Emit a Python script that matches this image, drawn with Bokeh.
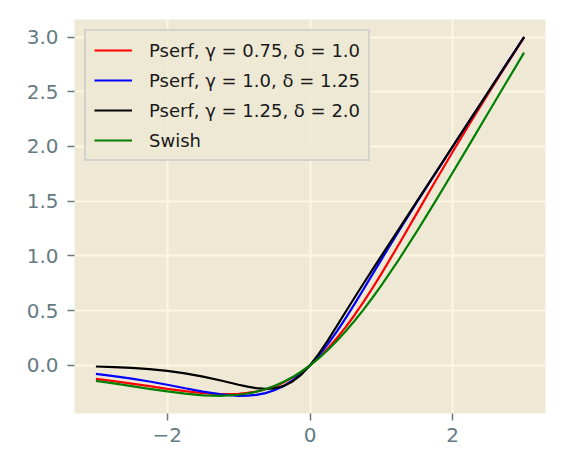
from bokeh.plotting import figure
from bokeh.models import FixedTicker, NumeralTickFormatter, Range1d, Legend, LegendItem
from bokeh.embed import file_html
from bokeh.resources import INLINE

# values
x_vals = [-3.0, -2.75, -2.5, -2.25, -2.0, -1.75, -1.5, -1.25, -1.0, -0.875, -0.75, -0.625,
          -0.5, -0.375, -0.25, -0.125, 0.0, 0.125, 0.25, 0.375, 0.5, 0.625, 0.75, 0.875,
          1.0, 1.25, 1.5, 1.75, 2.0, 2.25, 2.5, 2.75, 3.0]
pserf_a = [-0.1233, -0.1442, -0.1668, -0.1905, -0.2142, -0.2361, -0.2537, -0.2633, -0.2603,
           -0.2523, -0.2388, -0.2191, -0.1925, -0.1579, -0.1147, -0.0622, 0.0, 0.0723,
           0.1548, 0.2472, 0.3493, 0.4602, 0.5791, 0.7049, 0.8363, 1.1110, 1.3933, 1.6752,
           1.9518, 2.2215, 2.4845, 2.7424, 2.9968]
pserf_b = [-0.0787, -0.0982, -0.1212, -0.1479, -0.1777, -0.2092, -0.2399, -0.2652, -0.2784,
           -0.2775, -0.2698, -0.2538, -0.2279, -0.1905, -0.1406, -0.0772, 0.0, 0.0908,
           0.1942, 0.3087, 0.4319, 0.5616, 0.6953, 0.8308, 0.9663, 1.2335, 1.4936, 1.7479,
           1.9994, 2.2499, 2.5, 2.75, 3.0]
pserf_c = [-0.0105, -0.0158, -0.0237, -0.0351, -0.0512, -0.0734, -0.1027, -0.1386, -0.1775,
           -0.1951, -0.2086, -0.2149, -0.2101, -0.1898, -0.1495, -0.0864, 0.0, 0.1070,
           0.2287, 0.3583, 0.4899, 0.6201, 0.7480, 0.8744, 0.9999, 1.25, 1.5, 1.75,
           2.0, 2.25, 2.5, 2.75, 3.0]
swish = [-0.1423, -0.1652, -0.1897, -0.2145, -0.2384, -0.2591, -0.2736, -0.2784, -0.2689,
         -0.2574, -0.2406, -0.2179, -0.1888, -0.1527, -0.1095, -0.0586, 0.0, 0.0664,
         0.1405, 0.2223, 0.3112, 0.4071, 0.5094, 0.6176, 0.7311, 0.9716, 1.2264, 1.4909,
         1.7616, 2.0355, 2.3104, 2.5848, 2.8577]

labels = ["Pserf, γ = 0.75, δ = 1.0", "Pserf, γ = 1.0, δ = 1.25",
          "Pserf, γ = 1.25, δ = 2.0", "Swish"]
colors = ["#ff0000", "#0000ff", "#000000", "#008000"]
x_ticks = [-2, 0, 2]
y_ticks = [0.0, 0.5, 1.0, 1.5, 2.0, 2.5, 3.0]

FONT = "DejaVu Sans"
TXT = "#657b83"

p = figure(width=556, height=466, output_backend="svg", toolbar_location=None,
           x_range=Range1d(-3.3, 3.3), y_range=Range1d(-0.44, 3.16),
           min_border_left=74, min_border_right=11, min_border_top=19, min_border_bottom=53)
p.background_fill_color = "#eee8d5"
p.border_fill_color = "#ffffff"
p.outline_line_color = None

renderers = []
for ys, c in zip([pserf_a, pserf_b, pserf_c, swish], colors):
    renderers.append(p.line(x_vals, ys, line_color=c, line_width=2.2))

for ax in (p.xaxis[0], p.yaxis[0]):
    ax.axis_line_color = None
    ax.major_tick_line_color = TXT
    ax.major_tick_line_width = 1.5
    ax.major_tick_out = 7
    ax.major_tick_in = 0
    ax.minor_tick_line_color = None
    ax.major_label_text_font = FONT
    ax.major_label_text_font_size = "20px"
    ax.major_label_text_color = TXT

p.xaxis.ticker = FixedTicker(ticks=x_ticks)
p.xaxis.major_label_overrides = {-2: "\u22122", 0: "0", 2: "2"}
p.xaxis.major_label_standoff = 7
p.yaxis.ticker = FixedTicker(ticks=y_ticks)
p.yaxis.formatter = NumeralTickFormatter(format="0.0")
p.yaxis.major_label_standoff = 9

p.xgrid.ticker = FixedTicker(ticks=x_ticks)
p.ygrid.ticker = FixedTicker(ticks=y_ticks)
p.grid.grid_line_color = "#fdf6e3"
p.grid.grid_line_width = 2

legend = Legend(items=[LegendItem(label=l, renderers=[r]) for l, r in zip(labels, renderers)],
                location="top_left", margin=10, padding=8, spacing=8,
                glyph_width=38, glyph_height=22, label_height=22, label_standoff=17,
                label_text_font=FONT, label_text_font_size="18px", label_text_color="#1a1a1a",
                background_fill_color="#eee8d5", background_fill_alpha=0.8,
                border_line_color="#cccccc", border_line_alpha=0.8, border_line_width=2)
p.add_layout(legend)

open("out.html", "w").write(file_html(p, INLINE))
